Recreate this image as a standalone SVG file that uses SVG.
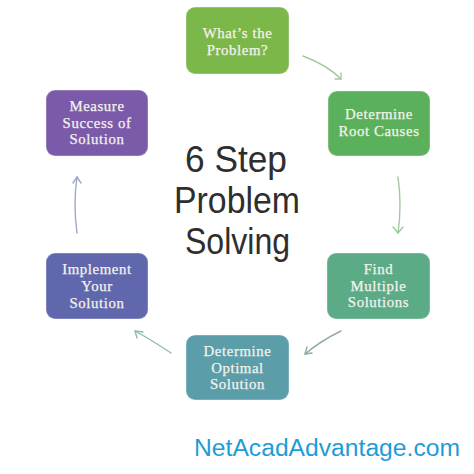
<svg xmlns="http://www.w3.org/2000/svg" width="474" height="474" viewBox="0 0 474 474">
<style>
.box{stroke:#ffffff;stroke-opacity:0.25;stroke-width:1.5}
.lbl{font-family:"Liberation Serif","Times New Roman",serif;font-size:14.8px;fill:#f3f3ec;stroke:#f3f3ec;stroke-width:0.25;text-anchor:middle;letter-spacing:0.6px}
.con{fill:none;stroke-width:1.4;stroke-linecap:round;stroke-linejoin:round}
.title{font-family:"Liberation Sans",Arial,sans-serif;font-size:36px;fill:#2e2e2e;text-anchor:middle}
.url{font-family:"Liberation Sans",Arial,sans-serif;font-size:23px;fill:#1e9cd8;text-anchor:middle}
</style>
<rect width="474" height="474" fill="#ffffff"/>
<g id="connectors">
<g stroke="#a9c79c" class="con"><path d="M303,56 Q327,65 341,79"/><path d="M335,79 L341,79 L341,73"/></g>
<g stroke="#9fcb9d" class="con"><path d="M398,177 Q402,205 398,233"/><path d="M393,227 L398,233 L403,227"/></g>
<g stroke="#90aba4" class="con"><path d="M341,331 Q322,340 305,354"/><path d="M312,353 L305,354 L307,347"/></g>
<g stroke="#8fbab2" class="con"><path d="M171,353 Q150,339 135,331"/><path d="M143,332 L135,331 L137,338"/></g>
<g stroke="#a0aac6" class="con"><path d="M77,233 Q73,205 77,177"/><path d="M73,183 L77,177 L81,183"/></g>
</g>
<g id="node1">
<rect class="box" x="186" y="7" width="103" height="67" rx="9" fill="#7cb74a"/>
<text class="lbl" x="237.5" y="38">What’s the</text>
<text class="lbl" x="237.5" y="54.5">Problem?</text>
</g>
<g id="node2">
<rect class="box" x="328" y="91" width="102" height="65" rx="9" fill="#5bb15b"/>
<text class="lbl" x="379" y="119">Determine</text>
<text class="lbl" x="379" y="135.5">Root Causes</text>
</g>
<g id="node3">
<rect class="box" x="327" y="253" width="103" height="66" rx="9" fill="#5bab87"/>
<text class="lbl" x="378.5" y="274">Find</text>
<text class="lbl" x="378.5" y="290.5">Multiple</text>
<text class="lbl" x="378.5" y="307">Solutions</text>
</g>
<g id="node4">
<rect class="box" x="186" y="335" width="103" height="65" rx="9" fill="#5b9ea9"/>
<text class="lbl" x="237.5" y="356">Determine</text>
<text class="lbl" x="237.5" y="372.5">Optimal</text>
<text class="lbl" x="237.5" y="389">Solution</text>
</g>
<g id="node5">
<rect class="box" x="46" y="253" width="102" height="66" rx="9" fill="#6167ad"/>
<text class="lbl" x="97" y="274">Implement</text>
<text class="lbl" x="97" y="291">Your</text>
<text class="lbl" x="97" y="308">Solution</text>
</g>
<g id="node6">
<rect class="box" x="46" y="90" width="102" height="66" rx="9" fill="#7b5ba9"/>
<text class="lbl" x="97" y="111">Measure</text>
<text class="lbl" x="97" y="127.5">Success of</text>
<text class="lbl" x="97" y="144">Solution</text>
</g>
<g id="title">
<text class="title" x="236" y="172" textLength="102" lengthAdjust="spacingAndGlyphs">6 Step</text>
<text class="title" x="237" y="213" textLength="126" lengthAdjust="spacingAndGlyphs">Problem</text>
<text class="title" x="237.5" y="254" textLength="105" lengthAdjust="spacingAndGlyphs">Solving</text>
</g>
<text class="url" x="327" y="456" textLength="266" lengthAdjust="spacingAndGlyphs">NetAcadAdvantage.com</text>
</svg>
